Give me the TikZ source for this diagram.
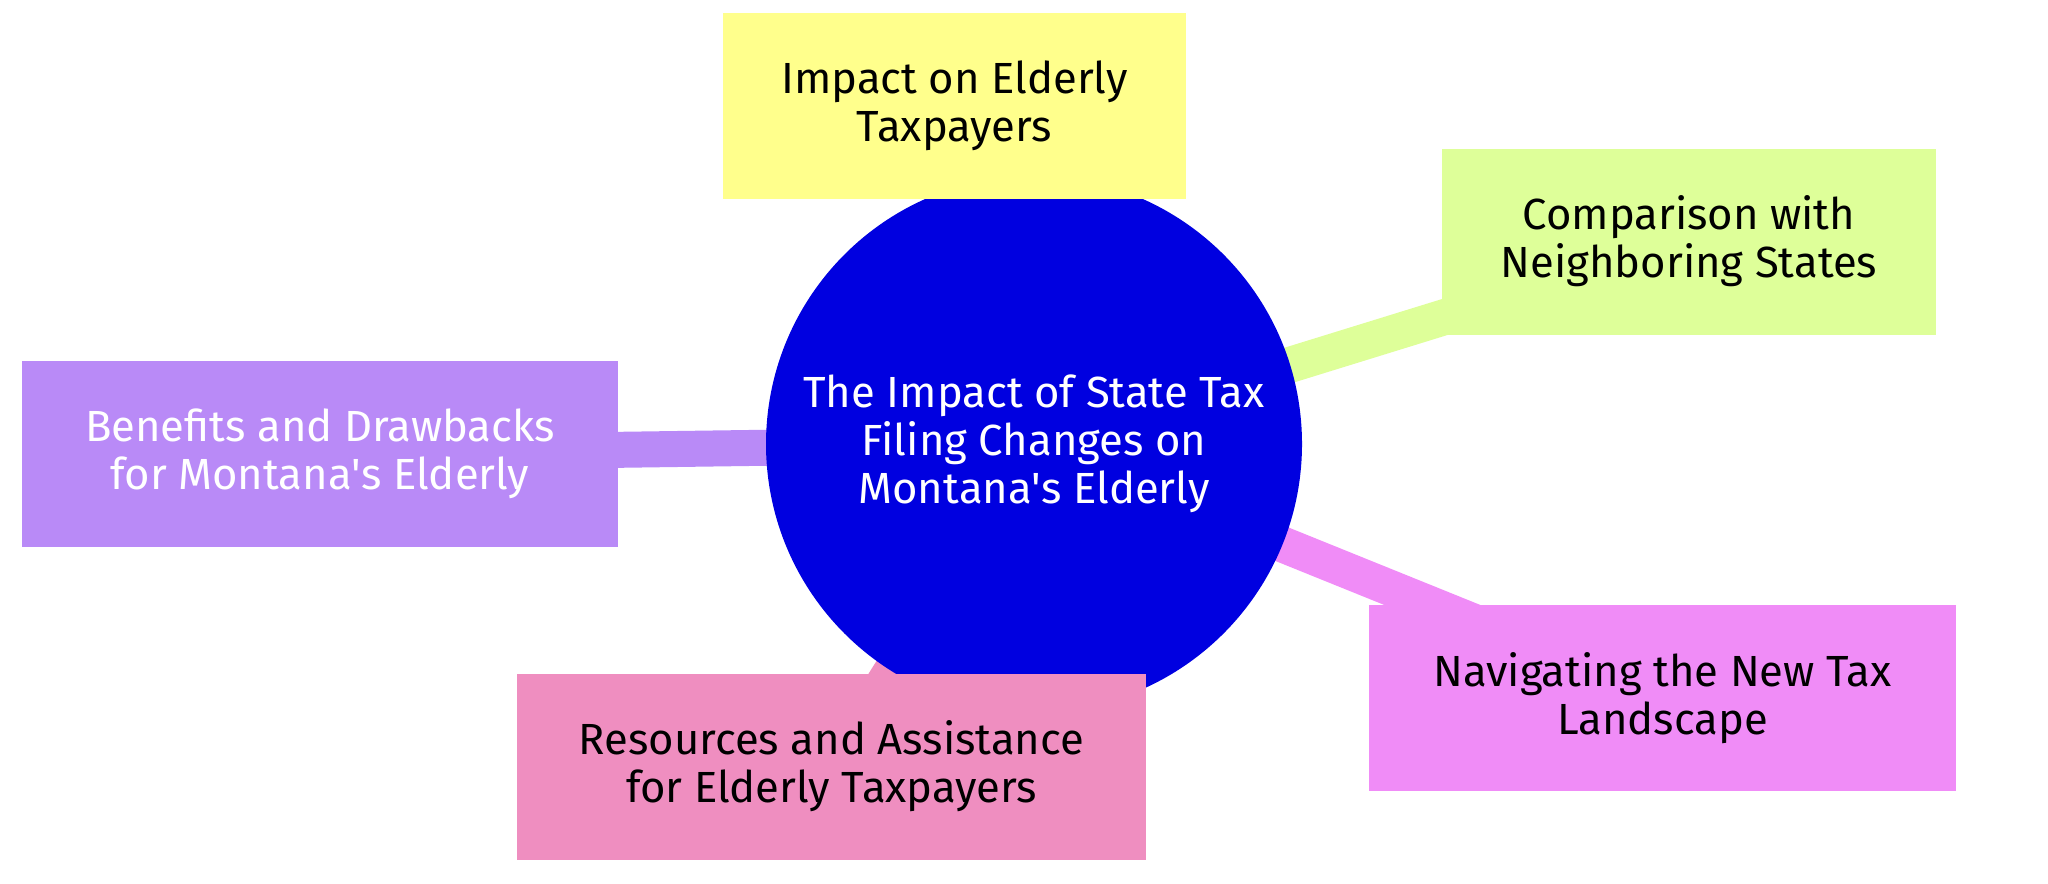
\documentclass[tikz,border=0pt]{standalone}
\usepackage{fontspec}
\setmainfont{Fira Sans}
\usetikzlibrary{backgrounds}

\definecolor{rootblue}{HTML}{0000E0}
\definecolor{taxyellow}{HTML}{FFFF8C}
\definecolor{taxgreen}{HTML}{DEFF99}
\definecolor{taxpurple}{HTML}{B98AF7}
\definecolor{taxpink}{HTML}{EF8EC0}
\definecolor{taxmagenta}{HTML}{F08CF7}

\begin{document}
\begin{tikzpicture}[x=0.5pt, y=-0.5pt,
		topic/.style={rectangle, inner sep=0pt, minimum height=93pt, align=center,
			font=\fontsize{21.8}{24}\selectfont},
		branch/.style={line width=18pt}]
		% Frame
		\useasboundingbox (0,0) rectangle (2048,883);
		
		% Coordinates
		\coordinate (C_root) at (1034, 444);
		\coordinate (C_yellow) at (954.5, 106);
		\coordinate (C_green) at (1689, 241.5);
		\coordinate (C_purple) at (320, 454);
		\coordinate (C_pink) at (831.5, 766.5);
		\coordinate (C_magenta) at (1662.5, 698);
		
		% Central topic
		\node[circle, fill=rootblue, text=white, minimum size=268pt, inner sep=0pt, align=center,
			font=\fontsize{21.8}{24}\selectfont] (root) at (C_root)
			{The Impact of State Tax\\Filing Changes on\\Montana\textquotesingle s Elderly};
		
		% Subtopics
		\node[topic, fill=taxyellow, minimum width=231.5pt] (impact) at (C_yellow)
			{Impact on Elderly\\Taxpayers};
		\node[topic, fill=taxgreen, minimum width=247pt] (compare) at (C_green)
			{Comparison with\\Neighboring States};
		\node[topic, fill=taxpurple, text=white, minimum width=298pt] (benefits) at (C_purple)
			{Benefits and Drawbacks\\for Montana\textquotesingle s Elderly};
		\node[topic, fill=taxpink, minimum width=314.5pt] (resources) at (C_pink)
			{Resources and Assistance\\for Elderly Taxpayers};
		\node[topic, fill=taxmagenta, minimum width=293.5pt] (navigate) at (C_magenta)
			{Navigating the New Tax\\Landscape};
		
		% Branches
		\begin{pgfonlayer}{background}
			\draw[branch, taxyellow] (root.center) -- (impact.center);
			\draw[branch, taxgreen] (root.center) -- (compare.center);
			\draw[branch, taxpurple] (root.center) -- (benefits.center);
			\draw[branch, taxpink] (root.center) -- (resources.center);
			\draw[branch, taxmagenta] (root.center) -- (navigate.center);
		\end{pgfonlayer}
	\end{tikzpicture}
\end{document}
